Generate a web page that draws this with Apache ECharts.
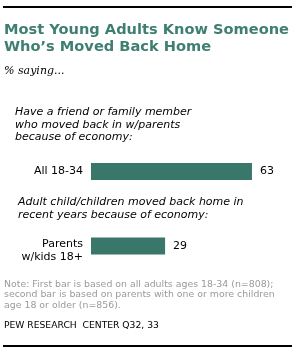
<!DOCTYPE html>
<html>
<head>
<meta charset="utf-8">
<script src="https://cdn.jsdelivr.net/npm/echarts@6/dist/echarts.min.js"></script>
<style>
html,body{margin:0;padding:0;background:#fff;}
#chart{width:297px;height:352px;}
</style>
</head>
<body>
<div id="chart"></div>
<script>
const categories = ['All 18-34', 'Parents\nw/kids 18+'];
const values = [63, 29];
const titleLines = ['Most Young Adults Know Someone', 'Who\u2019s Moved Back Home'];
const subtitle = '% saying...';
const question1 = ['Have a friend or family member', 'who moved back in w/parents', 'because of economy:'];
const question2 = ['Adult child/children moved back home in', 'recent years because of economy:'];
const noteLines = ['Note: First bar is based on all adults ages 18-34 (n=808);', 'second bar is based on parents with one or more children', 'age 18 or older (n=856).'];
const source = 'PEW RESEARCH  CENTER Q32, 33';

const chart = echarts.init(document.getElementById('chart'), null, {renderer: 'canvas'});
const sans = 'DejaVu Sans, Verdana, sans-serif';
const green = '#38776a';

function textEl(str, x, y, style) {
  return {type: 'text', left: x, top: y, style: Object.assign({text: str, font: '11px ' + sans, fill: '#000'}, style)};
}

const graphics = [
  {type: 'rect', shape: {x: 3, y: 6, width: 289, height: 2}, style: {fill: '#000'}},
  {type: 'rect', shape: {x: 3, y: 345, width: 289, height: 2}, style: {fill: '#000'}},
  textEl(titleLines[0], 4, 23, {font: 'bold 14.6px ' + sans, fill: '#3e7f72'}),
  textEl(titleLines[1], 4, 40, {font: 'bold 14.6px ' + sans, fill: '#3e7f72'}),
  textEl(subtitle, 4, 66, {font: 'italic 11px DejaVu Serif, Georgia, serif', fill: '#000'}),
];
question1.forEach((s, i) => graphics.push(textEl(s, 15, 107 + i * 12.5, {font: 'italic 11px ' + sans})));
question2.forEach((s, i) => graphics.push(textEl(s, 18, 197 + i * 12.5, {font: 'italic 11px ' + sans})));
noteLines.forEach((s, i) => graphics.push(textEl(s, 4, 280 + i * 10.3, {font: '9.4px ' + sans, fill: '#9a9a9a'})));
graphics.push(textEl(source, 4, 321, {font: '9.2px ' + sans, fill: '#000'}));

chart.setOption({
  animation: false,
  grid: {left: 91, width: 204.4, top: 134.25, height: 149},
  xAxis: {type: 'value', min: 0, max: 80, show: false},
  yAxis: {
    type: 'category', inverse: true,
    data: categories,
    axisLine: {show: false}, axisTick: {show: false},
    axisLabel: {
      margin: 8, color: '#000', fontFamily: sans, fontSize: 11, lineHeight: 13, align: 'right',
      formatter: (v) => v.indexOf('\n') >= 0 ? '{s| }\n' + v : v,
      rich: {s: {fontSize: 1, lineHeight: 9, height: 9}}
    }
  },
  series: [{
    type: 'bar', data: values, barWidth: 17, itemStyle: {color: green},
    label: {show: true, position: 'right', distance: 8, color: '#000', fontFamily: sans, fontSize: 11}
  }],
  graphic: graphics
});
</script>
</body>
</html>
